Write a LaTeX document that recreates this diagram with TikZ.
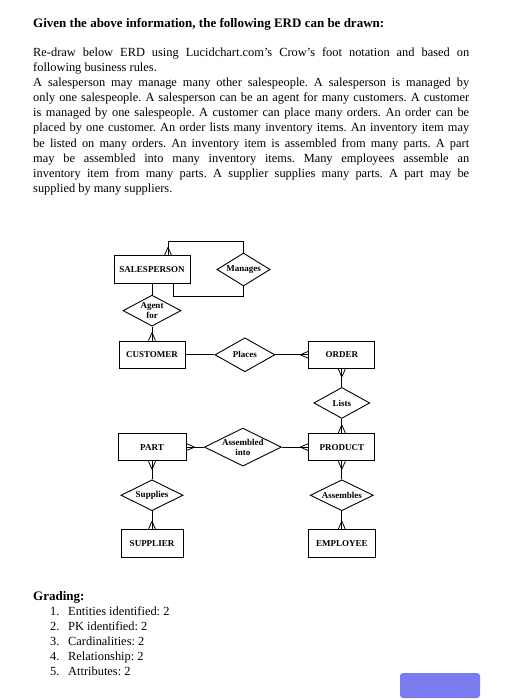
\documentclass[tikz,border=0pt]{standalone}
\usepackage{fontspec}
\setmainfont{Liberation Serif}
\usetikzlibrary{positioning,shapes.geometric,decorations.markings}
\definecolor{blurblue}{RGB}{124,124,240}
\tikzset{
 entity/.style={
 rectangle,
 draw,
 line width=0.9pt,
 minimum width=66pt,
 minimum height=27.5pt,
 inner sep=1pt,
 font=\fontsize{9}{10}\selectfont\bfseries
 },
 relation/.style={
 diamond,
 draw,
 line width=0.9pt,
 aspect=2,
 inner sep=0.5pt,
 align=center,
 font=\fontsize{9}{10}\selectfont\bfseries
 },
 link/.style={line width=0.8pt},
 many end/.style={postaction={decorate, decoration={markings,
 mark=at position 1 with {\draw[line width=0.8pt] (-8pt,0) -- (0,3.5pt) (-8pt,0) -- (0,-3.5pt);}}}},
 many start/.style={postaction={decorate, decoration={markings,
 mark=at position 0 with {\draw[line width=0.8pt] (8pt,0) -- (0,3.5pt) (8pt,0) -- (0,-3.5pt);}}}},
 bodytext/.style={anchor=north west, inner sep=0pt, text width=436pt, align=justify,
 font=\fontsize{12.4}{15.1}\selectfont},
 plaintext/.style={anchor=base west, inner sep=0pt, font=\fontsize{12.4}{15.1}\selectfont},
 headtext/.style={plaintext, font=\fontsize{13}{15.1}\selectfont\bfseries}
}
\frenchspacing
\begin{document}
\begin{tikzpicture}[x=1pt, y=-1pt]
 \useasboundingbox (0,0) rectangle (506,700);

 % text above the diagram
 \node[headtext] (title) at (33,28)
 {Given the above information, the following ERD can be drawn:};
 \node[bodytext] (rules) at (33,47.5) {\parindent=0pt\hyphenpenalty=10000
 Re-draw below ERD using Lucidchart.com's Crow's foot notation and based on\linebreak
 following business rules.\par
 A salesperson may manage many other salespeople. A salesperson is managed by\linebreak
 only one salespeople. A salesperson can be an agent for many customers. A customer\linebreak
 is managed by one salespeople. A customer can place many orders. An order can be\linebreak
 placed by one customer. An order lists many inventory items. An inventory item may\linebreak
 be listed on many orders. An inventory item is assembled from many parts. A part\linebreak
 may be assembled into many inventory items. Many employees assemble an\linebreak
 inventory item from many parts. A supplier supplies many parts. A part may be\linebreak
 supplied by many suppliers.};

 % entities and relationships
 \node[entity, minimum width=76pt] (salesperson) at (152,269.5) {SALESPERSON};
 \node[relation, minimum width=52pt, minimum height=33pt, right=26pt of salesperson] (manages) {Manages};
 \node[relation, minimum width=55pt, minimum height=31pt, below=11pt of salesperson] (agent) {Agent\\for};
 \node[entity, below=14pt of agent] (customer) {CUSTOMER};
 \node[relation, minimum width=60pt, minimum height=34pt, right=29pt of customer] (places) {Places};
 \node[entity, right=33pt of places] (order) {ORDER};
 \node[relation, minimum width=56pt, minimum height=31pt, below=18pt of order] (lists) {Lists};
 \node[entity, below=14pt of lists] (product) {PRODUCT};
 \node[entity, minimum width=68pt] (part) at (customer |- product) {PART};
 \node[relation, inner sep=0pt, minimum width=77pt, minimum height=38pt, xshift=-2pt] (assembled) at (places |- product) {Assembled\\into};
 \node[relation, minimum width=62pt, minimum height=31pt, below=18pt of part] (supplies) {Supplies};
 \node[entity, minimum width=62pt, below=18pt of supplies] (supplier) {SUPPLIER};
 \node[relation, minimum width=63pt, minimum height=31pt, below=18pt of product] (assembles) {Assembles};
 \node[entity, minimum width=67pt, below=18pt of assembles] (employee) {EMPLOYEE};

 % recursive loop
 \coordinate[above right=14pt and 16pt of salesperson.north] (looptop);
 \coordinate[below right=13pt and 21pt of salesperson.south] (loopbottom);
 \draw[link, many end] (manages.north) |- (looptop) -- (looptop |- salesperson.north);
 \draw[link] (salesperson.south -| loopbottom) -- (loopbottom) -| (manages.south);

 \draw[link] (salesperson) -- (agent);
 \draw[link, many end] (agent) -- (customer);
 \draw[link] (customer) -- (places);
 \draw[link, many end] (places) -- (order);
 \draw[link, many start] (order) -- (lists);
 \draw[link, many end] (lists) -- (product);
 \draw[link, many start] (product) -- (assembled);
 \draw[link, many end] (assembled) -- (part);
 \draw[link, many start] (part) -- (supplies);
 \draw[link, many end] (supplies) -- (supplier);
 \draw[link, many start] (product) -- (assembles);
 \draw[link, many end] (assembles) -- (employee);

 % grading list
 \node[headtext] (grading) at (33,600) {Grading:};
 \foreach \i/\crit in {1/Entities identified: 2, 2/PK identified: 2, 3/Cardinalities: 2,
 4/Relationship: 2, 5/Attributes: 2} {
 \node[plaintext] (num\i) at (50,{600+15.1*\i}) {\i.};
 \node[plaintext] (crit\i) at (68,{600+15.1*\i}) {\crit};
 }

 \fill[blurblue, rounded corners=3pt] (400,673) rectangle (480,698);
\end{tikzpicture}
\end{document}
